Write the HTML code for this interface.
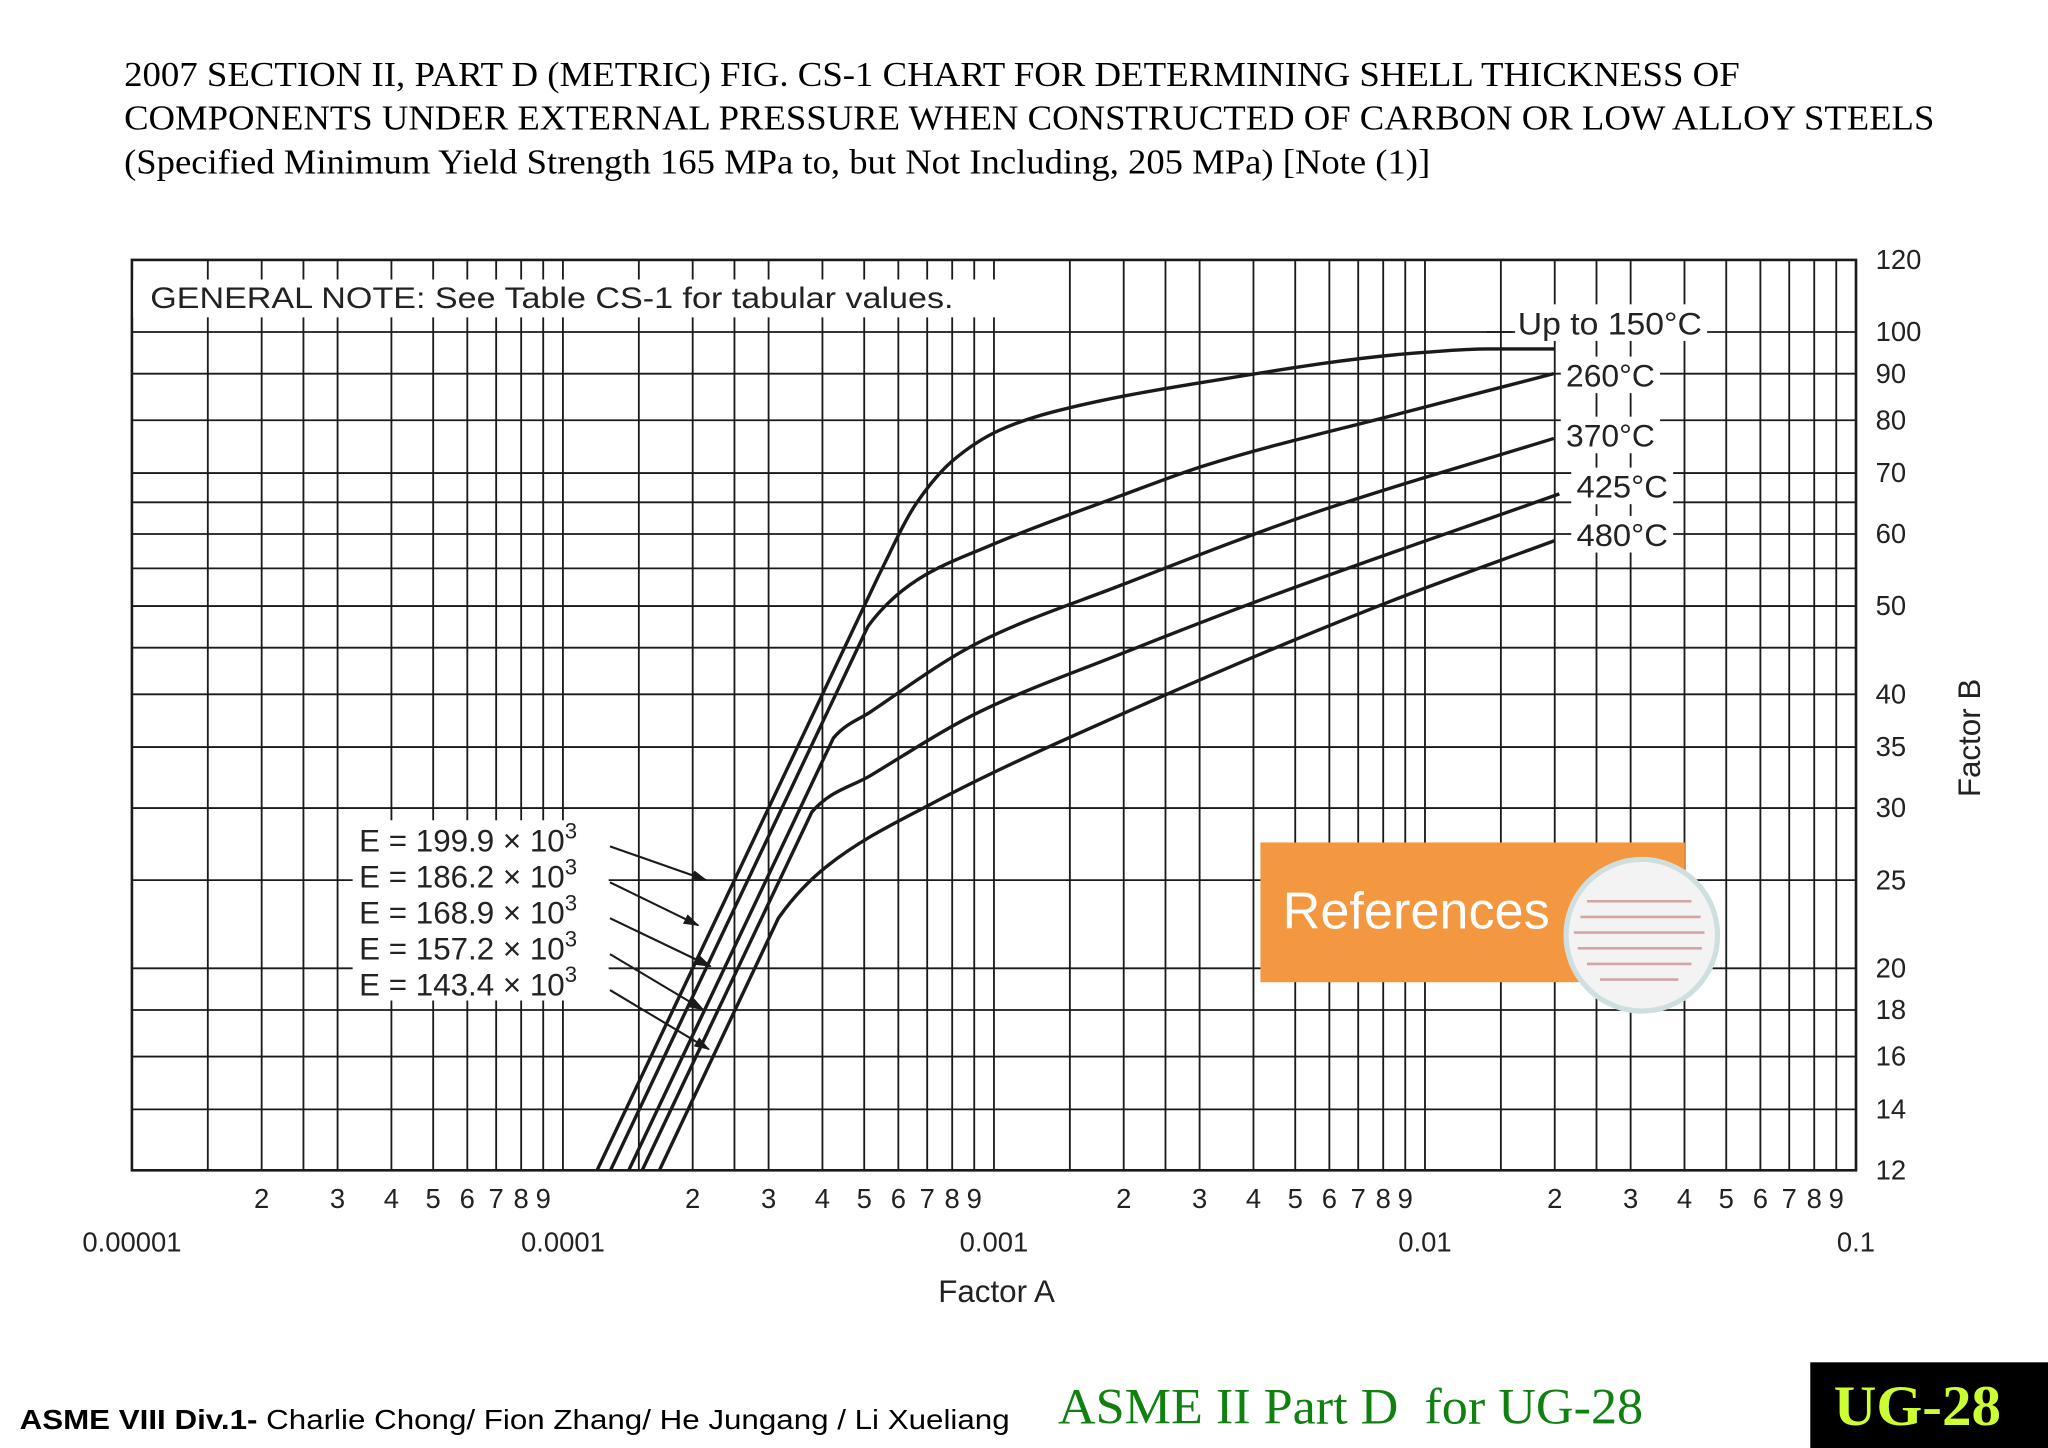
<!DOCTYPE html>
<html><head><meta charset="utf-8"><style>
html,body{margin:0;padding:0;background:#fff;}
svg{display:block;}
</style></head><body>
<svg id="chart" width="2048" height="1448" viewBox="0 0 1568 1108.6" preserveAspectRatio="none" xmlns="http://www.w3.org/2000/svg">
<rect width="1568" height="1108.6" fill="#fff"/>
<g font-family="Liberation Serif, serif" font-size="27" fill="#000">
<text x="95" y="66" textLength="1237" lengthAdjust="spacingAndGlyphs">2007 SECTION II, PART D (METRIC) FIG. CS-1 CHART FOR DETERMINING SHELL THICKNESS OF</text>
<text x="95" y="99" textLength="1386" lengthAdjust="spacingAndGlyphs">COMPONENTS UNDER EXTERNAL PRESSURE WHEN CONSTRUCTED OF CARBON OR LOW ALLOY STEELS</text>
<text x="95" y="133" textLength="1000" lengthAdjust="spacingAndGlyphs">(Specified Minimum Yield Strength 165 MPa to, but Not Including, 205 MPa) [Note (1)]</text>
</g>
<g id="grid"></g>
<g id="curves"></g>
<g id="labels"></g>
<text x="763" y="997" font-family="Liberation Sans, sans-serif" font-size="24" fill="#222" text-anchor="middle">Factor A</text>
<text transform="translate(1516,565) rotate(-90)" font-family="Liberation Sans, sans-serif" font-size="24" fill="#222" text-anchor="middle">Factor B</text>
<g>
<rect x="965" y="645" width="325" height="107" fill="#f39740"/>
<text x="982" y="711" font-family="Liberation Sans, sans-serif" font-size="40" fill="#fff">References</text>
<circle cx="1257" cy="716" r="58" fill="#f3f3f3" stroke="#cfdfe0" stroke-width="4"/>
<g stroke="#c07070" stroke-width="2" opacity="0.6">
<line x1="1215" y1="690" x2="1295" y2="690"/><line x1="1210" y1="702" x2="1302" y2="702"/><line x1="1205" y1="714" x2="1305" y2="714"/><line x1="1208" y1="726" x2="1303" y2="726"/><line x1="1215" y1="738" x2="1295" y2="738"/><line x1="1225" y1="750" x2="1285" y2="750"/>
</g>
</g>
<g>
<text x="15" y="1094" font-family="Liberation Sans, sans-serif" font-size="21" fill="#000" textLength="758" lengthAdjust="spacingAndGlyphs"><tspan font-weight="bold">ASME VIII Div.1- </tspan>Charlie Chong/ Fion Zhang/ He Jungang / Li Xueliang</text>
<text x="810" y="1090" font-family="Liberation Serif, serif" font-size="39" fill="#108010" textLength="448" lengthAdjust="spacingAndGlyphs" xml:space="preserve">ASME II Part D  for UG-28</text>
<rect x="1386" y="1043" width="182" height="66" fill="#000"/>
<text x="1404" y="1091" font-family="Liberation Serif, serif" font-size="44" font-weight="bold" fill="#ccff33" textLength="128" lengthAdjust="spacingAndGlyphs">UG-28</text>
</g>
</svg>
<script>
// ---- data ----
const xDecades = [0.00001, 0.0001, 0.001, 0.01, 0.1];
const xDecadeLabels = ["0.00001", "0.0001", "0.001", "0.01", "0.1"];
const xMinorLabels = ["2","3","4","5","6","7","8","9"];
const xMinorGrid = [1.5,2,2.5,3,4,5,6,7,8,9];
const yTicks = [120,100,90,80,70,60,50,40,35,30,25,20,18,16,14,12];
const yGrid = [120,100,90,80,70,65,60,55,50,45,40,35,30,25,20,18,16,14,12];
const seriesNames = ["Up to 150°C","260°C","370°C","425°C","480°C"];
const series150A = [1.2e-4, 5.4e-4, 6.63e-4, 8.07e-4, 1.03e-3, 1.37e-3, 3.03e-3, 1.0e-2, 1.4e-2, 2.0e-2];
const series150B = [12, 54.0, 65.0, 72.4, 78.0, 81.7, 88.0, 95.0, 95.8, 95.8];
const series260A = [1.289e-4, 5.1e-4, 6.63e-4, 9.73e-4, 1.97e-3, 3.10e-3, 8.87e-3, 1.99e-2];
const series260B = [12, 47.5, 53.4, 58.2, 66.1, 71.4, 81.5, 90.0];
const series370A = [1.421e-4, 4.24e-4, 5.19e-4, 9.3e-4, 1.97e-3, 5.48e-3, 1.99e-2];
const series370B = [12, 35.8, 38.3, 45.7, 52.7, 63.2, 76.4];
const series425A = [1.527e-4, 3.78e-4, 5.19e-4, 9.3e-4, 1.97e-3, 4.12e-3, 2.05e-2];
const series425B = [12, 29.7, 32.6, 38.3, 44.3, 50.7, 66.4];
const series480A = [1.674e-4, 3.16e-4, 4.1e-4, 7.14e-4, 1.97e-3, 8.4e-3, 2.0e-2];
const series480B = [12, 22.7, 25.9, 30.3, 38.0, 50.7, 59.0];
const eLabels = ["E = 199.9 × 10","E = 186.2 × 10","E = 168.9 × 10","E = 157.2 × 10","E = 143.4 × 10"];
const arrowTargetA = [2.15e-4, 2.06e-4, 2.2e-4, 2.12e-4, 2.18e-4];
const arrowTargetB = [25.0, 22.3, 20.1, 18.0, 16.3];

// ---- axes ----
const L=101, R=1421, T=199, Bt=896;
const xMin=1e-5, xMax=0.1, yMin=12, yMax=120;
function xs(a){return L+(R-L)*(Math.log10(a)-Math.log10(xMin))/(Math.log10(xMax)-Math.log10(xMin));}
function ys(b){return Bt-(Bt-T)*(Math.log10(b)-Math.log10(yMin))/(Math.log10(yMax)-Math.log10(yMin));}
const NS="http://www.w3.org/2000/svg";
function mk(tag,attrs,parent){const e=document.createElementNS(NS,tag);for(const k in attrs)e.setAttribute(k,attrs[k]);parent.appendChild(e);return e;}
const grid=document.getElementById('grid'), curves=document.getElementById('curves'), labels=document.getElementById('labels');
const F="Liberation Sans, sans-serif";

for(let d=0; d<4; d++){
  for(const m of xMinorGrid){
    const x=xs(xDecades[d]*m);
    const ln=mk('line',{x1:x,y1:T,x2:x,y2:Bt,stroke:'#1a1a1a','stroke-width':1.4},grid);
    
    
  }
  xMinorLabels.forEach((t,i)=>{
    const tx=mk('text',{x:xs(xDecades[d]*(i+2)),y:925,'font-family':F,'font-size':21,fill:'#222','text-anchor':'middle'},labels);
    tx.textContent=t;
    
    
  });
}
xDecades.forEach((v,i)=>{
  const tx=mk('text',{x:xs(v),y:958,'font-family':F,'font-size':21,fill:'#222','text-anchor':'middle'},labels);
  tx.textContent=xDecadeLabels[i];
  
  
  if(i>0&&i<4){const ln=mk('line',{x1:xs(v),y1:T,x2:xs(v),y2:Bt,stroke:'#1a1a1a','stroke-width':1.4},grid);
  
  }
});
yGrid.forEach(v=>{
  const ln=mk('line',{x1:L,y1:ys(v),x2:R,y2:ys(v),stroke:'#1a1a1a','stroke-width':1.4},grid);
  
  
});
yTicks.forEach(v=>{
  const tx=mk('text',{x:1436,y:ys(v)+7,'font-family':F,'font-size':21,fill:'#222'},labels);
  tx.textContent=v;
  
  
});
const frame=mk('rect',{x:L,y:T,width:R-L,height:Bt-T,fill:'none',stroke:'#1a1a1a','stroke-width':2},grid);



// general note
const nb=mk('rect',{x:L+1,y:214,width:664,height:29,fill:'#fff'},grid);


const nt=mk('text',{x:115,y:236,'font-family':F,'font-size':23,fill:'#222',textLength:615,lengthAdjust:'spacingAndGlyphs'},grid);
nt.textContent="GENERAL NOTE: See Table CS-1 for tabular values.";



// curves: straight elastic segment, then monotone cubic (Fritsch-Carlson)
function pathFrom(A,B){
  const p=A.map((a,i)=>[xs(a),ys(B[i])]);
  const n=p.length, dx=[], m=[], tg=[];
  for(let i=0;i<n-1;i++){dx.push(p[i+1][0]-p[i][0]); m.push((p[i+1][1]-p[i][1])/dx[i]);}
  tg[n-1]=m[n-2];
  tg[1]=m[1]+(m[0]-m[1])*0.35;
  for(let i=2;i<n-1;i++){
    if(m[i-1]*m[i]<=0) tg[i]=0;
    else { const w1=2*dx[i]+dx[i-1], w2=dx[i]+2*dx[i-1]; tg[i]=(w1+w2)/(w1/m[i-1]+w2/m[i]); }
  }
  let d=`M${p[0][0]},${p[0][1]} L${p[1][0]},${p[1][1]}`;
  for(let i=1;i<n-1;i++){
    const h=dx[i]/3;
    d+=` C${p[i][0]+h},${p[i][1]+tg[i]*h} ${p[i+1][0]-h},${p[i+1][1]-tg[i+1]*h} ${p[i+1][0]},${p[i+1][1]}`;
  }
  return d;
}
const allA=[series150A,series260A,series370A,series425A,series480A];
const allB=[series150B,series260B,series370B,series425B,series480B];
const curveNames=['curve-150c','curve-260c','curve-370c','curve-425c','curve-480c'];
allA.forEach((A,i)=>{
  const p=mk('path',{d:pathFrom(A,allB[i]),fill:'none',stroke:'#1a1a1a','stroke-width':2.6,'stroke-linejoin':'round'},curves);
  
  
});

// temperature labels
const tLabelPos=[[1162,256,141],[1199,296,68],[1199,342,68],[1207,381,70],[1207,418,70]];
seriesNames.forEach((n,i)=>{
  const [x,y,w]=tLabelPos[i];
  const bg=mk('rect',{x:x-4,y:y-23,width:w+8,height:28,fill:'#fff'},labels);
  
  
  const tx=mk('text',{x:x,y:y,'font-family':F,'font-size':24,fill:'#222',textLength:w,lengthAdjust:'spacingAndGlyphs'},labels);
  tx.textContent=n;
  
  
});
mk('line',{x1:1138,y1:ys(100),x2:1160,y2:ys(100),stroke:'#1a1a1a','stroke-width':1.4},labels);

// E labels + arrows
const eb=mk('rect',{x:270,y:628,width:196,height:138,fill:'#fff'},labels);


mk('defs',{},labels).innerHTML='<marker id="ah" markerWidth="12" markerHeight="8" refX="11" refY="4" orient="auto" markerUnits="userSpaceOnUse"><path d="M0,0 L12,4 L0,8 Z" fill="#1a1a1a"/></marker>';
eLabels.forEach((t,i)=>{
  const y=652+i*27.5;
  const tx=mk('text',{x:275,y:y,'font-family':F,'font-size':24,fill:'#222'},labels);
  tx.innerHTML=t+'<tspan dy="-10" font-size="17">3</tspan>';
  
  
  const ar=mk('line',{x1:467,y1:y-4,x2:xs(arrowTargetA[i]),y2:ys(arrowTargetB[i]),stroke:'#1a1a1a','stroke-width':1.6,'marker-end':'url(#ah)'},labels);
  
  
});
</script>
</body></html>
